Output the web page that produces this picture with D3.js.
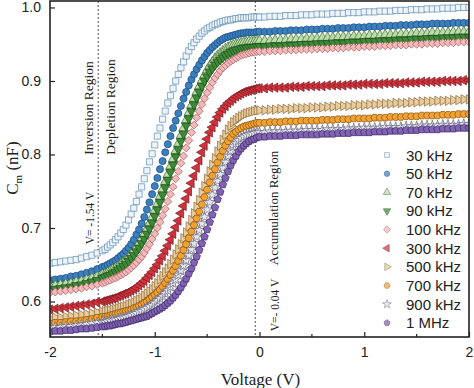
<!DOCTYPE html>
<html>
<head>
<meta charset="utf-8">
<script src="https://cdn.jsdelivr.net/npm/d3@7"></script>
<style>
  body { margin: 0; background: #fff; }
  svg { display: block; }
</style>
</head>
<body>
<svg width="474" height="388"></svg>
<script>
// sweep voltages (V): 0.05 V steps, 0.025 V through the transition
const voltage = [
  ...d3.range(10).map(i => -2 + i * 0.05),
  ...d3.range(60).map(i => -1.5 + i * 0.025),
  ...d3.range(41).map(i => i * 0.05)
].map(v => +v.toFixed(3));

const c30k = [.652,.653,.654,.655,.656,.657,.659,.661,.663,.666,
  .669,.671,.674,.677,.680,.684,.688,.693,.698,.704,
  .711,.719,.727,.736,.746,.756,.767,.778,.790,.801,
  .813,.825,.836,.848,.859,.870,.880,.890,.900,.909,
  .918,.926,.934,.941,.947,.952,.957,.961,.965,.968,
  .971,.973,.975,.977,.978,.980,.981,.982,.983,.983,
  .984,.985,.985,.986,.986,.986,.986,.987,.987,.987,
  .987,
  .987,.988,.988,.988,.989,.989,.989,.990,.990,.990,
  .991,.991,.991,.992,.992,.992,.993,.993,.993,.994,
  .994,.994,.995,.995,.995,.996,.996,.996,.997,.997,
  .997,.998,.998,.998,.999,.999,.999,1.000,1.000,1.000];
const c50k = [.629,.630,.631,.632,.634,.635,.637,.639,.641,.644,
  .647,.648,.650,.652,.654,.656,.659,.662,.665,.669,
  .673,.678,.684,.691,.698,.706,.715,.725,.735,.746,
  .757,.768,.780,.791,.803,.814,.825,.836,.846,.856,
  .866,.876,.885,.894,.902,.909,.916,.922,.928,.933,
  .938,.942,.946,.949,.952,.955,.957,.959,.960,.961,
  .962,.963,.964,.965,.965,.966,.966,.966,.966,.967,
  .967,
  .967,.967,.968,.968,.968,.969,.969,.969,.970,.970,
  .970,.971,.971,.971,.972,.972,.972,.973,.973,.973,
  .974,.974,.974,.975,.975,.975,.976,.976,.976,.977,
  .977,.977,.978,.978,.978,.978,.979,.979,.979,.979];
const c70k = [.621,.622,.623,.624,.625,.627,.628,.630,.632,.634,
  .637,.638,.640,.642,.644,.646,.648,.651,.654,.657,
  .661,.665,.669,.674,.680,.686,.692,.699,.707,.715,
  .724,.733,.743,.753,.763,.773,.784,.794,.805,.815,
  .826,.836,.847,.857,.867,.876,.885,.893,.901,.908,
  .915,.921,.926,.931,.935,.938,.941,.944,.946,.948,
  .949,.950,.951,.952,.953,.953,.954,.954,.954,.955,
  .955,
  .955,.955,.956,.956,.956,.957,.957,.957,.958,.958,
  .958,.959,.959,.959,.960,.960,.960,.961,.961,.961,
  .962,.962,.962,.963,.963,.963,.964,.964,.964,.965,
  .965,.965,.966,.966,.966,.966,.967,.967,.967,.967];
const c90k = [.616,.617,.618,.619,.620,.622,.623,.625,.627,.629,
  .632,.633,.635,.636,.638,.640,.643,.645,.648,.651,
  .655,.659,.663,.668,.673,.679,.685,.692,.699,.707,
  .716,.725,.735,.745,.755,.765,.776,.786,.797,.807,
  .818,.828,.839,.849,.859,.868,.877,.885,.893,.900,
  .906,.912,.917,.922,.926,.929,.932,.935,.937,.939,
  .941,.942,.943,.944,.945,.945,.946,.946,.946,.947,
  .947,
  .947,.948,.948,.948,.949,.949,.949,.950,.950,.950,
  .951,.951,.951,.952,.952,.952,.953,.953,.953,.954,
  .954,.954,.955,.955,.955,.956,.956,.956,.957,.957,
  .957,.958,.958,.958,.959,.959,.959,.960,.960,.960];
const c100k = [.612,.613,.614,.615,.616,.617,.618,.620,.621,.623,
  .625,.626,.628,.629,.631,.632,.634,.636,.638,.640,
  .643,.646,.649,.653,.657,.661,.666,.672,.678,.685,
  .692,.700,.708,.717,.726,.736,.746,.756,.767,.777,
  .788,.798,.809,.819,.830,.840,.850,.859,.868,.876,
  .884,.891,.898,.904,.909,.914,.918,.921,.924,.927,
  .929,.931,.933,.935,.936,.937,.938,.939,.939,.940,
  .940,
  .940,.941,.941,.941,.942,.942,.942,.943,.943,.943,
  .944,.944,.944,.945,.945,.945,.946,.946,.946,.947,
  .947,.947,.948,.948,.948,.949,.949,.949,.950,.950,
  .950,.951,.951,.951,.952,.952,.952,.953,.953,.953];
const c300k = [.589,.590,.591,.592,.593,.594,.595,.596,.597,.599,
  .600,.601,.602,.603,.604,.605,.607,.608,.610,.611,
  .613,.615,.617,.619,.622,.625,.628,.632,.636,.640,
  .645,.650,.656,.662,.669,.676,.684,.692,.701,.710,
  .720,.730,.740,.750,.761,.771,.782,.792,.803,.812,
  .821,.830,.837,.844,.851,.857,.862,.866,.870,.873,
  .876,.879,.881,.883,.885,.886,.887,.888,.889,.890,
  .890,
  .890,.891,.891,.891,.891,.892,.892,.892,.893,.893,
  .893,.893,.894,.894,.894,.894,.895,.895,.895,.896,
  .896,.896,.896,.897,.897,.897,.897,.898,.898,.898,
  .899,.899,.899,.899,.900,.900,.900,.900,.901,.901];
const c500k = [.577,.578,.578,.579,.580,.581,.582,.583,.584,.585,
  .586,.587,.588,.588,.589,.590,.591,.592,.593,.594,
  .596,.597,.599,.601,.603,.605,.608,.611,.614,.617,
  .621,.625,.630,.635,.640,.645,.651,.657,.664,.671,
  .678,.686,.694,.702,.711,.720,.729,.738,.748,.757,
  .767,.777,.786,.795,.804,.812,.820,.827,.834,.839,
  .844,.847,.850,.852,.854,.856,.857,.858,.859,.860,
  .860,
  .860,.861,.861,.862,.862,.862,.863,.863,.863,.864,
  .864,.864,.865,.865,.866,.866,.866,.867,.867,.867,
  .868,.868,.869,.869,.869,.870,.870,.870,.871,.871,
  .872,.872,.872,.873,.873,.873,.874,.874,.875,.875];
const c700k = [.570,.571,.571,.572,.573,.573,.574,.575,.576,.578,
  .579,.579,.580,.581,.582,.583,.584,.585,.586,.587,
  .588,.589,.591,.592,.594,.596,.598,.600,.603,.606,
  .609,.612,.616,.620,.625,.630,.636,.642,.648,.655,
  .662,.670,.678,.686,.695,.704,.713,.722,.732,.742,
  .752,.762,.771,.780,.789,.797,.805,.812,.818,.823,
  .828,.831,.834,.836,.838,.839,.840,.841,.842,.843,
  .843,
  .843,.844,.844,.844,.845,.845,.845,.846,.846,.846,
  .846,.847,.847,.847,.848,.848,.848,.849,.849,.849,
  .849,.850,.850,.850,.851,.851,.851,.852,.852,.852,
  .853,.853,.853,.853,.854,.854,.854,.855,.855,.855];
const c900k = [.564,.565,.565,.566,.566,.567,.568,.569,.570,.571,
  .572,.572,.573,.574,.575,.575,.576,.577,.578,.579,
  .580,.581,.583,.584,.586,.587,.589,.591,.593,.595,
  .598,.601,.604,.607,.611,.615,.620,.625,.630,.636,
  .642,.649,.656,.663,.671,.679,.688,.697,.706,.715,
  .725,.735,.745,.755,.764,.773,.782,.790,.798,.805,
  .811,.815,.819,.822,.824,.826,.827,.828,.829,.830,
  .830,
  .830,.831,.831,.831,.831,.832,.832,.832,.833,.833,
  .833,.833,.834,.834,.834,.834,.835,.835,.835,.836,
  .836,.836,.836,.837,.837,.837,.837,.838,.838,.838,
  .839,.839,.839,.839,.840,.840,.840,.840,.841,.841];
const c1M = [.559,.560,.560,.561,.561,.562,.563,.563,.564,.565,
  .566,.566,.567,.567,.568,.569,.570,.570,.571,.572,
  .573,.574,.575,.576,.577,.578,.579,.580,.582,.584,
  .586,.588,.590,.592,.595,.598,.601,.605,.609,.614,
  .619,.625,.631,.638,.645,.653,.661,.670,.679,.688,
  .698,.708,.718,.728,.739,.749,.759,.768,.777,.785,
  .792,.798,.804,.808,.812,.815,.818,.820,.821,.823,
  .824,
  .824,.825,.825,.825,.826,.826,.826,.827,.827,.827,
  .827,.828,.828,.828,.829,.829,.829,.830,.830,.830,
  .830,.831,.831,.831,.832,.832,.832,.833,.833,.833,
  .834,.834,.834,.834,.835,.835,.835,.836,.836,.836];

const labels = ['30 kHz','50 kHz','70 kHz','90 kHz','100 kHz','300 kHz','500 kHz','700 kHz','900 kHz','1 MHz'];
const xTicks = [-2, -1, 0, 1, 2];
const xMinor = [-1.5, -0.5, 0.5, 1.5];
const yTicks = [0.6, 0.7, 0.8, 0.9, 1.0];

// polygon symbol helper (hexagon, pentagon)
function polygon(n, turn) {
  return {
    draw(ctx, size) {
      const r = Math.sqrt(size / (0.5 * n * Math.sin(2 * Math.PI / n)));
      for (let i = 0; i < n; i++) {
        const a = turn + i * 2 * Math.PI / n;
        if (i === 0) ctx.moveTo(r * Math.cos(a), r * Math.sin(a));
        else ctx.lineTo(r * Math.cos(a), r * Math.sin(a));
      }
      ctx.closePath();
    }
  };
}

const styles = [
  {data: c30k,  type: d3.symbolSquare,   rot: 0,   size: 38, fill: '#eef4fa', stroke: '#5d8db5'},
  {data: c50k,  type: d3.symbolCircle,   rot: 0,   size: 40, fill: '#3a7fc0', stroke: '#1d4a78'},
  {data: c70k,  type: d3.symbolTriangle, rot: 0,   size: 38, fill: '#bcdcaa', stroke: '#3f7034'},
  {data: c90k,  type: d3.symbolTriangle, rot: 180, size: 38, fill: '#3c8a36', stroke: '#1c4a18'},
  {data: c100k, type: d3.symbolSquare,   rot: 45,  size: 32, fill: '#f4baba', stroke: '#a85c5c'},
  {data: c300k, type: d3.symbolTriangle, rot: -90, size: 38, fill: '#d2323c', stroke: '#741a20'},
  {data: c500k, type: d3.symbolTriangle, rot: 90,  size: 38, fill: '#e9cb9c', stroke: '#8a6a3a'},
  {data: c700k, type: polygon(6, 0),     rot: 0,   size: 38, fill: '#f3a232', stroke: '#85520e'},
  {data: c900k, type: d3.symbolStar,     rot: 0,   size: 36, fill: '#e6e6ee', stroke: '#66667e'},
  {data: c1M,   type: polygon(5, -Math.PI / 2), rot: 0, size: 38, fill: '#8262b4', stroke: '#3a2a62'}
];

const svg = d3.select('svg'),
    width = +svg.attr('width'),
    height = +svg.attr('height');
const margin = {top: 1, right: 5, bottom: 51, left: 50};

const x = d3.scaleLinear().domain([-2, 2]).range([margin.left, width - margin.right]);
const y = d3.scaleLinear().domain([0.5517, 1.0088]).range([height - margin.bottom, margin.top]);

svg.append('clipPath').attr('id', 'plot')
  .append('rect')
  .attr('x', margin.left).attr('y', margin.top)
  .attr('width', width - margin.left - margin.right)
  .attr('height', height - margin.top - margin.bottom);

// region boundaries
[-1.54, -0.04].forEach(v => {
  svg.append('line')
    .attr('x1', x(v)).attr('x2', x(v))
    .attr('y1', margin.top).attr('y2', height - margin.bottom)
    .attr('stroke', '#555').attr('stroke-width', 1)
    .attr('stroke-dasharray', '2,2');
});

// series markers
const plot = svg.append('g').attr('clip-path', 'url(#plot)');
styles.forEach(s => {
  const sym = d3.symbol().type(s.type).size(s.size);
  plot.append('g').selectAll('path')
    .data(s.data)
    .join('path')
    .attr('transform', (d, i) => `translate(${x(voltage[i])},${y(d)}) rotate(${s.rot})`)
    .attr('d', sym)
    .attr('fill', s.fill)
    .attr('stroke', s.stroke)
    .attr('stroke-width', 0.7);
});

// axes (plain hyphen for negatives, like the original)
const xAxis = d3.axisBottom(x).tickValues(xTicks).tickFormat(d => String(d)).tickSizeInner(-5).tickSizeOuter(0).tickPadding(10);
const gx = svg.append('g').attr('transform', `translate(0,${height - margin.bottom})`).call(xAxis);
xMinor.forEach(v => {
  gx.append('line').attr('x1', x(v)).attr('x2', x(v)).attr('y1', 0).attr('y2', -3)
    .attr('stroke', '#222').attr('stroke-width', 1.2);
});

const yAxis = d3.axisLeft(y).tickValues(yTicks).tickFormat(d3.format('.1f')).tickSizeInner(-5).tickSizeOuter(0).tickPadding(9);
const gy = svg.append('g').attr('transform', `translate(${margin.left},0)`).call(yAxis);

[gx, gy].forEach(g => {
  g.select('.domain').remove();
  g.selectAll('.tick line').attr('stroke', '#222').attr('stroke-width', 1.2);
  g.selectAll('.tick text').attr('font-family', '"Liberation Sans", Arial, sans-serif')
    .attr('font-size', 14).attr('fill', '#222');
});

// frame
svg.append('rect')
  .attr('x', margin.left).attr('y', margin.top)
  .attr('width', width - margin.left - margin.right)
  .attr('height', height - margin.top - margin.bottom)
  .attr('fill', 'none').attr('stroke', '#222').attr('stroke-width', 1.6);

// axis titles
svg.append('text')
  .attr('x', (margin.left + width - margin.right) / 2 + 1).attr('y', 385)
  .attr('text-anchor', 'middle')
  .attr('font-family', '"Liberation Serif", "Times New Roman", serif')
  .attr('font-size', 17).attr('fill', '#222')
  .text('Voltage (V)');

const yt = svg.append('text')
  .attr('transform', 'translate(18,168) rotate(-90)')
  .attr('text-anchor', 'middle')
  .attr('font-family', '"Liberation Serif", "Times New Roman", serif')
  .attr('font-size', 17).attr('fill', '#222');
yt.append('tspan').text('C');
yt.append('tspan').attr('font-size', 11).attr('dy', 4).text('m');
yt.append('tspan').attr('dy', -4).text(' (nF)');

// region notes
const notes = [
  {text: 'Inversion Region',    x: 93,  y: 108, size: 13.5},
  {text: 'Depletion Region',    x: 115, y: 107, size: 13.5},
  {text: 'V= -1.54 V',          x: 94,  y: 218, size: 11.5},
  {text: 'Accumulation Region', x: 278, y: 208, size: 13},
  {text: 'V=- 0.04 V',          x: 279, y: 305, size: 11.5}
];
notes.forEach(n => {
  svg.append('text')
    .attr('transform', `translate(${n.x},${n.y}) rotate(-90)`)
    .attr('text-anchor', 'middle')
    .attr('font-family', '"Liberation Serif", "Times New Roman", serif')
    .attr('font-size', n.size).attr('fill', '#222')
    .text(n.text);
});

// legend
const legend = svg.append('g');
styles.forEach((s, i) => {
  const ly = 155 + i * 18.65;
  legend.append('path')
    .attr('transform', `translate(387,${ly}) rotate(${s.rot})`)
    .attr('d', d3.symbol().type(s.type).size(24))
    .attr('fill', s.fill).attr('stroke', s.stroke)
    .attr('stroke-width', 0.7).attr('opacity', 0.7);
  legend.append('text')
    .attr('x', 406).attr('y', ly + 5.5)
    .attr('font-family', '"Liberation Sans", Arial, sans-serif')
    .attr('font-size', 15).attr('fill', '#222')
    .text(labels[i]);
});
</script>
</body>
</html>
